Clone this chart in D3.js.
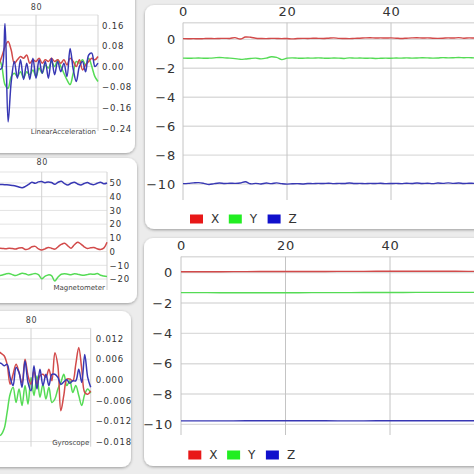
<!DOCTYPE html>
<html>
<head>
<meta charset="utf-8">
<script src="https://cdn.jsdelivr.net/npm/d3@7"></script>
<style>
  html, body { margin: 0; padding: 0; background: #ececec; overflow: hidden; }
  svg { display: block; font-family: "DejaVu Sans", sans-serif; }
</style>
</head>
<body>
<script>
// ---- data ----
const accT = d3.range(68, 101);
const accRed = [0.006, 0.04, 0.077, 0.097, 0.064, 0.013, 0.026, 0.039, 0.032, 0.045, 0.013, 0.026, 0.02, 0.032, 0.013, 0.026, 0.02,
                0.032, 0.02, 0.026, 0.013, 0.026, 0.006, 0.032, 0.02, 0, 0.026, -0.013, 0.006, 0.02, 0.032, 0.026, 0.039];
const accGreen = [0.039, 0, -0.07, -0.084, -0.039, -0.026, -0.039, -0.02, -0.045, -0.02, -0.032, -0.013, -0.039, -0.006, -0.026, 0.006, -0.006,
                  0.02, 0, 0.026, 0, -0.026, -0.052, -0.07, -0.026, 0.02, 0.013, 0.026, 0.006, 0.032, 0, -0.039, -0.058];
const accBlue = [-0.013, -0.005, 0.167, -0.215, -0.06, 0.02, -0.045, 0.026, -0.05, 0.013, -0.05, 0.032, -0.045, 0.026, -0.026, 0.02, -0.045,
                 0.032, -0.032, 0.02, -0.02, 0.013, -0.039, 0.07, -0.01, -0.058, 0, 0.02, -0.02, 0.045, 0.052, 0, 0.013];
const accTicks = [0.16, 0.08, 0, -0.08, -0.16, -0.24];

const magT = d3.range(67, 101);
const magRed = [2.5, 2.3, 2.0, 2.4, 2.2, 1.8, 2.6, 2.8, 1.6, 2.0, 3.5, 3.8, 2.0, 1.2, 2.0, 3.0, 2.5,
                1.8, 3.5, 5.2, 6.0, 4.2, 2.5, 5.0, 6.8, 5.5, 3.5, 2.2, 2.8, 3.0, 2.0, 1.5, 2.5, 6.8];
const magGreen = [-17.5, -17.0, -16.3, -16.0, -16.8, -17.5, -16.6, -15.8, -16.2, -17.0, -16.5, -15.9, -16.8, -19.8, -18.0, -17.0, -17.5,
                  -21.5, -18.5, -16.5, -16.2, -16.5, -16.8, -16.2, -16.5, -17.0, -17.2, -16.8, -16.3, -16.6, -16.0, -17.2, -17.8, -18.2];
const magBlue = [48.8, 48.9, 48.7, 48.5, 48.2, 47.8, 47.0, 46.5, 47.5, 49.0, 50.5, 49.8, 50.8, 51.0, 50.2, 50.8, 50.3,
                 49.0, 50.5, 51.3, 49.5, 48.5, 49.8, 50.5, 49.3, 48.6, 49.6, 50.4, 49.2, 48.8, 49.8, 50.6, 49.4, 50.0];
const magTicks = [50, 40, 30, 20, 10, 0, -10, -20];

const gyroT = d3.range(69, 101);
const gyroRed = [0.0084, 0.0077, 0.0070, 0.0045, -0.0013, 0.0016, 0.0045, 0.0021, -0.0010, 0.0060, 0.0012, -0.0013, 0.0026, -0.0013, 0.0012, 0.0016,
                 0.0007, 0.0031, -0.0003, 0.0079, 0.0041, -0.0090, -0.0045, 0.0002, 0.0002, -0.0003, 0.0045, 0.0094, 0.0031, -0.0037, -0.0042, -0.0032];
const gyroGreen = [-0.0164, -0.0160, -0.0143, -0.0095, -0.0042, -0.0022, -0.0066, -0.0027, -0.0075, -0.0017, -0.0071, 0.0007, -0.0046, 0.0012, -0.0051, -0.0013,
                   -0.0056, -0.0022, -0.0066, -0.0056, -0.0027, -0.0008, 0.0016, -0.0017, -0.0003, -0.0037, -0.0017, -0.0046, -0.0075, -0.0042, -0.0027, -0.0039];
const gyroBlue = [0.0050, 0.0048, 0.0041, 0.0045, 0.0007, -0.0017, 0.0036, 0.0021, -0.0022, 0.0055, -0.0008, -0.0032, 0.0041, -0.0027, 0.0031, -0.0017,
                  0.0016, -0.0017, 0.0016, 0.0016, 0.0007, -0.0013, -0.0006, 0, -0.0010, -0.0003, -0.0003, 0.0031, -0.0008, 0.0074, 0.0007, -0.0022];
const gyroTicks = [0.012, 0.006, 0, -0.006, -0.012, -0.018];

const topT = d3.range(0, 61);
const topX = [0.05, 0.04, 0.05, 0.04, 0.05, 0.06, 0.05, 0.06, 0.07, 0.06, 0.12, 0.02, 0.16, 0.14, 0.08, 0.06, 0.05, 0.07, 0.06, 0.05,
              0.06, 0.03, 0.06, 0.07, 0.06, 0.08, 0.07, 0.06, 0.08, 0.10, 0.07, 0.06, 0.05, 0.07, 0.08, 0.10, 0.11, 0.09, 0.10, 0.09,
              0.10, 0.08, 0.06, 0.08, 0.10, 0.11, 0.09, 0.10, 0.08, 0.07, 0.08, 0.10, 0.09, 0.12, 0.08, 0.10, 0.09, 0.08, 0.09, 0.10, 0.09];
const topY = [-1.30, -1.31, -1.30, -1.29, -1.31, -1.30, -1.28, -1.25, -1.28, -1.30, -1.33, -1.38, -1.36, -1.32, -1.30, -1.35, -1.30, -1.20, -1.25, -1.40,
              -1.30, -1.28, -1.30, -1.31, -1.29, -1.30, -1.28, -1.30, -1.31, -1.29, -1.30, -1.32, -1.28, -1.30, -1.29, -1.31, -1.30, -1.32, -1.31, -1.30,
              -1.31, -1.29, -1.30, -1.28, -1.30, -1.29, -1.27, -1.28, -1.30, -1.29, -1.26, -1.28, -1.27, -1.25, -1.27, -1.26, -1.28, -1.27, -1.26, -1.27, -1.26];
const topZ = [-9.97, -9.95, -9.92, -9.90, -9.95, -10.03, -9.97, -9.93, -9.96, -9.94, -9.95, -9.93, -9.84, -9.98, -9.95, -9.99, -9.93, -9.97, -9.92, -9.97,
              -10.0, -9.98, -9.97, -9.99, -9.96, -9.97, -9.95, -9.96, -9.94, -9.97, -9.95, -9.96, -9.93, -9.96, -9.95, -9.97, -9.95, -9.96, -9.94, -9.97,
              -9.96, -9.95, -9.97, -9.94, -9.96, -9.93, -9.96, -9.94, -9.97, -9.93, -9.95, -9.92, -9.95, -9.93, -9.96, -9.94, -9.95, -9.93, -9.96, -9.94, -9.95];

const botT = [0, 5, 10, 15, 20, 25, 30, 35, 40, 45, 50, 55, 60];
const botX = [0.06, 0.06, 0.065, 0.07, 0.07, 0.075, 0.08, 0.085, 0.09, 0.09, 0.09, 0.085, 0.08];
const botY = [-1.32, -1.32, -1.33, -1.33, -1.33, -1.32, -1.32, -1.31, -1.31, -1.30, -1.30, -1.30, -1.30];
const botZ = [-9.77, -9.77, -9.77, -9.76, -9.76, -9.76, -9.77, -9.77, -9.76, -9.76, -9.76, -9.76, -9.76];

const bigXTicks = [0, 20, 40];
const bigYTicks = [0, -2, -4, -6, -8, -10];
const legendKeys = ['X', 'Y', 'Z'];

// ---- drawing ----
const width = 474, height = 474;
const lineColors = { red: '#d24a4a', green: '#55db55', blue: '#3838b4' };
const keyColors = ['#e81818', '#22ee22', '#1010cc'];

const svg = d3.select('body').append('svg')
  .attr('width', width)
  .attr('height', height);

const shadow = svg.append('defs').append('filter')
  .attr('id', 'shadow')
  .attr('x', '-10%').attr('y', '-10%')
  .attr('width', '120%').attr('height', '120%');
shadow.append('feDropShadow')
  .attr('dx', 0).attr('dy', 1)
  .attr('stdDeviation', 1.6)
  .attr('flood-color', '#000')
  .attr('flood-opacity', 0.35);

const cards = [
  { x: -20, y: -20, w: 155, h: 173 },
  { x: -20, y: 158, w: 157, h: 145 },
  { x: -20, y: 311, w: 151, h: 156 },
  { x: 145, y: 5, w: 360, h: 224 },
  { x: 144, y: 238, w: 360, h: 228 }
];
svg.selectAll('rect.card')
  .data(cards)
  .join('rect')
  .attr('class', 'card')
  .attr('x', d => d.x).attr('y', d => d.y)
  .attr('width', d => d.w).attr('height', d => d.h)
  .attr('rx', 9)
  .attr('fill', '#fff')
  .attr('filter', 'url(#shadow)');

function smallPanel(cfg) {
  const x = d3.scaleLinear().domain([80, 100]).range([cfg.x80, cfg.right]);
  const y = d3.scaleLinear().domain(cfg.yDomain).range([cfg.bottom, cfg.top]);
  const g = svg.append('g');

  // horizontal grid + top border
  g.selectAll('line.h')
    .data(cfg.yTicks.concat([cfg.yDomain[1]]))
    .join('line')
    .attr('x1', -5).attr('x2', cfg.right)
    .attr('y1', d => y(d)).attr('y2', d => y(d))
    .attr('stroke', '#e3e3e3');

  // vertical grid at 80 and the right edge
  g.selectAll('line.v')
    .data([80, 100])
    .join('line')
    .attr('x1', d => x(d)).attr('x2', d => x(d))
    .attr('y1', cfg.top).attr('y2', cfg.bottom)
    .attr('stroke', '#d2d2d2');

  // top tick label
  g.append('g')
    .attr('transform', 'translate(0,' + cfg.labelY + ')')
    .call(d3.axisTop(x).tickValues([80]).tickSize(0).tickPadding(0))
    .call(a => a.select('.domain').remove())
    .selectAll('text')
    .attr('dy', '0.35em')
    .attr('fill', '#444')
    .style('font-family', '"DejaVu Sans", sans-serif')
    .style('font-size', '8px')
    .style('letter-spacing', '0.6px');

  // right tick labels
  g.append('g')
    .attr('transform', 'translate(' + cfg.right + ',0)')
    .call(d3.axisRight(y).tickValues(cfg.yTicks).tickFormat(cfg.fmt).tickSize(0).tickPadding(cfg.pad))
    .call(a => a.select('.domain').remove())
    .selectAll('text')
    .attr('fill', '#333')
    .style('font-family', '"DejaVu Sans", sans-serif')
    .style('font-size', '8.5px')
    .style('letter-spacing', '0.8px');

  const line = d3.line()
    .x((d, i) => x(cfg.t[i]))
    .y(d => y(d))
    .curve(d3.curveCatmullRom);

  [['green', cfg.green], ['red', cfg.red], ['blue', cfg.blue]].forEach(([c, vals]) => {
    g.append('path')
      .datum(vals)
      .attr('d', line)
      .attr('fill', 'none')
      .attr('stroke', lineColors[c])
      .attr('stroke-width', 1.5)
      .attr('stroke-linejoin', 'round');
  });

  g.append('text')
    .attr('x', cfg.nameX)
    .attr('y', cfg.nameY)
    .attr('text-anchor', 'end')
    .attr('fill', '#444')
    .style('font-size', '7px')
    .text(cfg.name);
}

smallPanel({
  t: accT, red: accRed, green: accGreen, blue: accBlue,
  yDomain: [-0.25, 0.2], yTicks: accTicks, fmt: d3.format('.2f'),
  x80: 36, right: 98, top: 15, bottom: 131, pad: 4, labelY: 7.5,
  name: 'LinearAcceleration', nameX: 96, nameY: 134
});

smallPanel({
  t: magT, red: magRed, green: magGreen, blue: magBlue,
  yDomain: [-28, 58], yTicks: magTicks, fmt: d3.format('d'),
  x80: 41.7, right: 107, top: 172, bottom: 290, pad: 2.5, labelY: 162.3,
  name: 'Magnetometer', nameX: 105, nameY: 289.5
});

smallPanel({
  t: gyroT, red: gyroRed, green: gyroGreen, blue: gyroBlue,
  yDomain: [-0.0195, 0.015], yTicks: gyroTicks, fmt: d3.format('.3f'),
  x80: 31, right: 90.7, top: 328.3, bottom: 446.7, pad: 5, labelY: 320,
  name: 'Gyroscope', nameX: 89.3, nameY: 445
});

function bigPanel(cfg) {
  const x = d3.scaleLinear().domain([0, 60]).range([cfg.x0, cfg.x0 + 60 * cfg.unit]);
  const y = d3.scaleLinear().domain(cfg.yDomain).range([cfg.bottom, cfg.top]);
  const g = svg.append('g');

  // horizontal grid
  g.selectAll('line.h')
    .data(bigYTicks.concat([cfg.yDomain[1]]))
    .join('line')
    .attr('x1', cfg.x0).attr('x2', width + 10)
    .attr('y1', d => y(d)).attr('y2', d => y(d))
    .attr('stroke', '#dcdcdc')
    .attr('stroke-width', 1.4);

  // vertical grid
  g.selectAll('line.v')
    .data(bigXTicks)
    .join('line')
    .attr('x1', d => x(d)).attr('x2', d => x(d))
    .attr('y1', cfg.top).attr('y2', cfg.bottom)
    .attr('stroke', '#c4c4c4');

  g.append('g')
    .attr('transform', 'translate(0,' + cfg.labelY + ')')
    .call(d3.axisTop(x).tickValues(bigXTicks).tickSize(0).tickPadding(0))
    .call(a => a.select('.domain').remove())
    .selectAll('text')
    .attr('dy', '0.35em')
    .attr('fill', '#333')
    .style('font-family', '"DejaVu Sans", sans-serif')
    .style('font-size', '13px')
    .style('letter-spacing', '0.8px');

  g.append('g')
    .attr('transform', 'translate(' + cfg.x0 + ',0)')
    .call(d3.axisLeft(y).tickValues(bigYTicks).tickSize(0).tickPadding(cfg.pad))
    .call(a => a.select('.domain').remove())
    .selectAll('text')
    .attr('fill', '#333')
    .style('font-family', '"DejaVu Sans", sans-serif')
    .style('font-size', '13px')
    .style('letter-spacing', '0.8px');

  const line = d3.line()
    .x((d, i) => x(cfg.t[i]))
    .y(d => y(d))
    .curve(d3.curveCatmullRom);

  [['red', cfg.red], ['green', cfg.green], ['blue', cfg.blue]].forEach(([c, vals]) => {
    g.append('path')
      .datum(vals)
      .attr('d', line)
      .attr('fill', 'none')
      .attr('stroke', lineColors[c])
      .attr('stroke-width', 1.4);
  });

  // legend
  const legend = g.append('g').attr('transform', 'translate(' + cfg.legendX + ',' + cfg.legendY + ')');
  legend.selectAll('rect')
    .data(legendKeys)
    .join('rect')
    .attr('x', (d, i) => i * 38.8)
    .attr('y', 0)
    .attr('width', 13)
    .attr('height', 9)
    .attr('fill', (d, i) => keyColors[i]);
  legend.selectAll('text')
    .data(legendKeys)
    .join('text')
    .attr('x', (d, i) => i * 38.8 + 21)
    .attr('y', 4.5)
    .attr('dy', '0.36em')
    .attr('fill', '#333')
    .style('font-size', '12px')
    .text(d => d);
}

bigPanel({
  t: topT, red: topX, green: topY, blue: topZ,
  x0: 183, unit: 5.2, yDomain: [-11.1, 1.15], top: 22.7, bottom: 200,
  labelY: 11, pad: 7, legendX: 190, legendY: 214.5
});

bigPanel({
  t: botT, red: botX, green: botY, blue: botZ,
  x0: 181, unit: 5.225, yDomain: [-10.7, 1.05], top: 256.7, bottom: 435,
  labelY: 245, pad: 8, legendX: 188.3, legendY: 450.5
});
</script>
</body>
</html>
